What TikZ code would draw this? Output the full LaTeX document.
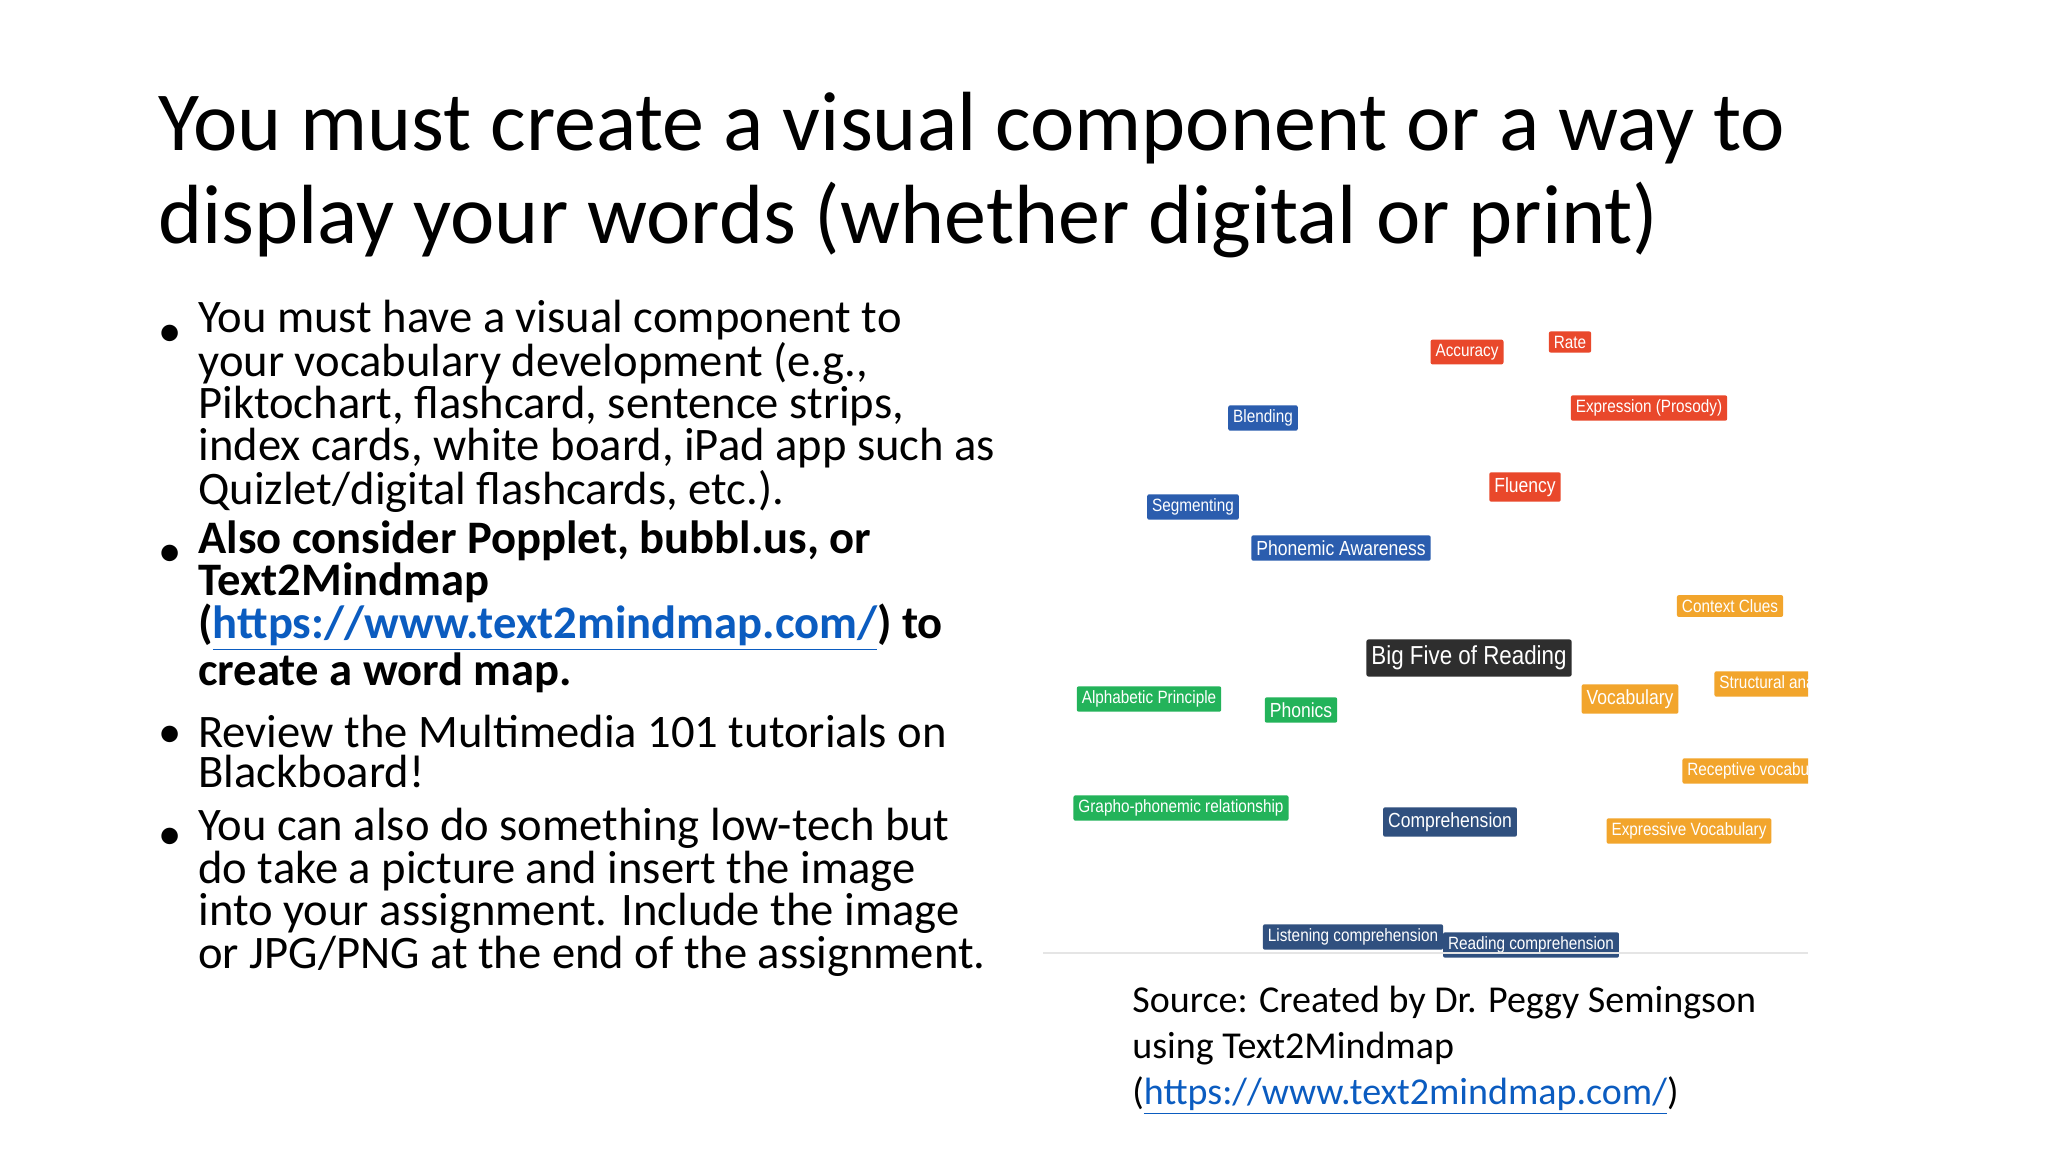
\documentclass[tikz,border=0pt]{standalone}
\usepackage{fontspec}
\setmainfont{Carlito}
\newfontfamily\mm[FakeStretch=0.86]{Liberation Sans}
\pgfdeclarelayer{bg}
\pgfsetlayers{bg,main}
\definecolor{cred}{HTML}{E9482B}
\definecolor{cblue}{HTML}{2B5DAE}
\definecolor{cgreen}{HTML}{23B35A}
\definecolor{corange}{HTML}{F2A52C}
\definecolor{cdark}{HTML}{2E2E2E}
\definecolor{cnavy}{HTML}{30507F}
\definecolor{clink}{HTML}{0B5CC0}
\begin{document}
\begin{tikzpicture}[x=0.5pt,y=-0.5pt,
  mnode/.style={fill=#1,text=white,inner xsep=2.5pt,inner ysep=2.2pt,font=\mm\fontsize{8.9}{10}\selectfont,rounded corners=1pt},
  mid/.style={mnode=#1,font=\mm\fontsize{10.2}{11}\selectfont,inner ysep=2.6pt},
  edge/.style={draw=gray!45,line width=0.7pt},
  bul/.style={anchor=base west,align=left,inner sep=0pt,font=\fontsize{23.3}{19.8}\selectfont},
  dot/.style={anchor=base west,inner sep=0pt,font=\fontsize{23.3}{19.8}\selectfont}]
\useasboundingbox (0,0) rectangle (2048,1152);
\fill[white] (0,0) rectangle (2048,1152);
% title
\node[anchor=base west,inner sep=0pt,font=\fontsize{42}{46}\selectfont] (t1) at (158,150) {You must create a visual component or a way to};
\node[anchor=base west,inner sep=0pt,font=\fontsize{42}{46}\selectfont] (t2) at (158,243) {display your words (whether digital or print)};
% bullets
\node[dot] (d1) at (158,346) {•};
\node[bul] (b1) at (198,504) {You must have a visual component to\\your vocabulary development (e.g.,\\Piktochart, flashcard, sentence strips,\\index cards, white board, iPad app such as\\Quizlet/digital flashcards, etc.).};
\node[dot] (d2) at (158,566) {•};
\node[bul,font=\bfseries\fontsize{23.3}{19.8}\selectfont] (b2) at (198,685) {Also consider Popplet, bubbl.us, or\\Text2Mindmap\\(\textcolor{clink}{\underline{https://www.text2mindmap.com/}}) to\\create a word map.};
\node[dot] (d3) at (158,747) {•};
\node[bul] (b3) at (198,787) {Review the Multimedia 101 tutorials on\\Blackboard!};
\node[dot] (d4) at (158,849) {•};
\node[bul] (b4) at (198,968) {You can also do something low-tech but\\do take a picture and insert the image\\into your assignment. Include the image\\or JPG/PNG at the end of the assignment.};
% mind map
\node[mnode=cdark,font=\mm\fontsize{13}{14}\selectfont,inner ysep=3.2pt] (big) at (1469,658) {Big Five of Reading};
\node[mid=cred] (flu) at (1525,487) {Fluency};
\node[mnode=cred] (acc) at (1467,352) {Accuracy};
\node[mnode=cred] (rate) at (1570,342) {Rate};
\node[mnode=cred] (expr) at (1649,408) {Expression (Prosody)};
\node[mid=cblue] (pa) at (1341,548) {Phonemic Awareness};
\node[mnode=cblue] (blend) at (1263,418) {Blending};
\node[mnode=cblue] (seg) at (1193,507) {Segmenting};
\node[mid=cgreen] (ph) at (1301,710) {Phonics};
\node[mnode=cgreen] (alph) at (1149,699) {Alphabetic Principle};
\node[mnode=cgreen] (gra) at (1181,808) {Grapho-phonemic relationship};
\node[mid=cnavy] (comp) at (1450,822) {Comprehension};
\node[mnode=cnavy] (lis) at (1353,937) {Listening comprehension};
\node[mnode=cnavy] (read) at (1531,945) {Reading comprehension};
\node[mid=corange] (voc) at (1630,699) {Vocabulary};
\node[mnode=corange] (ctx) at (1730,606) {Context Clues};
\node[mnode=corange] (exv) at (1689,831) {Expressive Vocabulary};
\begin{scope}
\clip (1600,600) rectangle (1808,900);
\node[mnode=corange,anchor=west] (str) at (1714,684) {Structural analysis};
\node[mnode=corange,anchor=west] (rec) at (1682,771) {Receptive vocabulary};
\end{scope}
\begin{pgfonlayer}{bg}
\foreach \a/\b in {big/flu,big/pa,big/ph,big/voc,big/comp,flu/acc,flu/rate,flu/expr,pa/blend,pa/seg,ph/alph,ph/gra,voc/ctx,voc/str,voc/rec,voc/exv,comp/lis,comp/read}
  \draw[edge] (\a.center) -- (\b.center);
\end{pgfonlayer}
\draw[gray!20,line width=0.8pt] (1043,953) -- (1808,953);
% source
\node[anchor=base west,inner sep=0pt,font=\fontsize{19}{23}\selectfont] (s1) at (1132,1012) {Source: Created by Dr. Peggy Semingson};
\node[anchor=base west,inner sep=0pt,font=\fontsize{19}{23}\selectfont] (s2) at (1132,1058) {using Text2Mindmap};
\node[anchor=base west,inner sep=0pt,font=\fontsize{19}{23}\selectfont] (s3) at (1132,1104) {(\textcolor{clink}{\underline{https://www.text2mindmap.com/}})};
\end{tikzpicture}
\end{document}
